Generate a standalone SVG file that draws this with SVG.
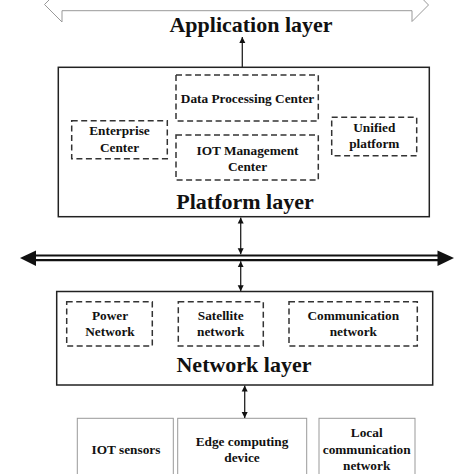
<svg xmlns="http://www.w3.org/2000/svg" width="474" height="474" viewBox="0 0 474 474">
<defs>
<style>
.t{font-family:"Liberation Serif","Times New Roman",serif;font-weight:bold;fill:#111;text-anchor:middle}
.big{font-size:22px}
.sm{font-size:13.3px}
.solid{fill:#fff;stroke:#222;stroke-width:1.5}
.dash{fill:none;stroke:#333;stroke-width:1.5;stroke-dasharray:6,3.5}
.grey{fill:#fff;stroke:#999;stroke-width:1}
.ln{stroke:#222;stroke-width:1.3;fill:none}
</style>
<marker id="ah" viewBox="0 0 10 10" refX="10" refY="5" markerWidth="6" markerHeight="9" markerUnits="userSpaceOnUse" orient="auto-start-reverse">
<path d="M0,0 L10,5 L0,10 Z" fill="#111"/>
</marker>
</defs>
<rect width="474" height="474" fill="#fff"/>

<g id="top-arrow">
<polygon points="44.5,4.5 62,22 62,10.7 412,10.7 412,21.5 428.5,5 412,-12 412,-2 62,-2 62,-13" fill="#fff" stroke="#999" stroke-width="1"/>
</g>

<g id="application-layer">
<text class="t big" x="251" y="31.5">Application layer</text>
</g>

<g id="platform-layer">
<rect class="solid" x="58.3" y="67.3" width="371" height="149.4"/>
<text class="t big" x="245" y="209">Platform layer</text>
</g>
<g id="data-processing-center">
<rect class="dash" x="176" y="75" width="142.3" height="46"/>
<text class="t sm" x="247.5" y="102.5">Data Processing Center</text>
</g>
<g id="enterprise-center">
<rect class="dash" x="71.7" y="120.7" width="95.6" height="38"/>
<text class="t sm" x="119.5" y="135">Enterprise</text>
<text class="t sm" x="119.5" y="151.7">Center</text>
</g>
<g id="iot-management-center">
<rect class="dash" x="176" y="135" width="142.3" height="45"/>
<text class="t sm" x="247.5" y="155">IOT Management</text>
<text class="t sm" x="247.5" y="170.5">Center</text>
</g>
<g id="unified-platform">
<rect class="dash" x="331.7" y="117.3" width="85" height="38.4"/>
<text class="t sm" x="374.3" y="132.3">Unified</text>
<text class="t sm" x="374.3" y="148.3">platform</text>
</g>

<g id="bus">
<polygon points="20,258 36,250.5 36,266 " fill="#111"/>
<polygon points="454,258 437.5,250.5 437.5,266" fill="#111"/>
<line x1="34" y1="255.5" x2="440" y2="255.5" stroke="#111" stroke-width="2.2"/>
<line x1="34" y1="260.2" x2="440" y2="260.2" stroke="#111" stroke-width="2.2"/>
</g>

<g id="network-layer">
<rect class="solid" x="56.7" y="291.5" width="376" height="93.5"/>
<text class="t big" x="244" y="371.7">Network layer</text>
</g>
<g id="power-network">
<rect class="dash" x="66.7" y="301.7" width="85.6" height="44.3"/>
<text class="t sm" x="110" y="320">Power</text>
<text class="t sm" x="110" y="336">Network</text>
</g>
<g id="satellite-network">
<rect class="dash" x="178.3" y="301.7" width="85" height="44.3"/>
<text class="t sm" x="220.7" y="320">Satellite</text>
<text class="t sm" x="220.7" y="336">network</text>
</g>
<g id="communication-network">
<rect class="dash" x="289" y="301.7" width="128.3" height="44.3"/>
<text class="t sm" x="353.3" y="319.5">Communication</text>
<text class="t sm" x="353.3" y="336">network</text>
</g>

<g id="iot-sensors">
<rect class="grey" x="77.3" y="418.3" width="96" height="70"/>
<text class="t sm" x="126" y="454.3">IOT sensors</text>
</g>
<g id="edge-computing-device">
<rect class="grey" x="177.7" y="418.3" width="129" height="70"/>
<text class="t sm" x="242" y="445.7">Edge computing</text>
<text class="t sm" x="242" y="461.7">device</text>
</g>
<g id="local-communication-network">
<rect class="grey" x="319" y="418.3" width="96" height="70"/>
<text class="t sm" x="366.7" y="437.3">Local</text>
<text class="t sm" x="366.7" y="454">communication</text>
<text class="t sm" x="366.7" y="470">network</text>
</g>

<g id="connectors">
<line class="ln" x1="242.3" y1="67.3" x2="242.3" y2="37" marker-end="url(#ah)"/>
<line class="ln" x1="240.7" y1="217.5" x2="240.7" y2="254.3" marker-start="url(#ah)" marker-end="url(#ah)"/>
<line class="ln" x1="240.7" y1="261.3" x2="240.7" y2="291.3" marker-start="url(#ah)" marker-end="url(#ah)"/>
<line class="ln" x1="244.7" y1="385.5" x2="244.7" y2="418" marker-start="url(#ah)" marker-end="url(#ah)"/>
</g>
</svg>
